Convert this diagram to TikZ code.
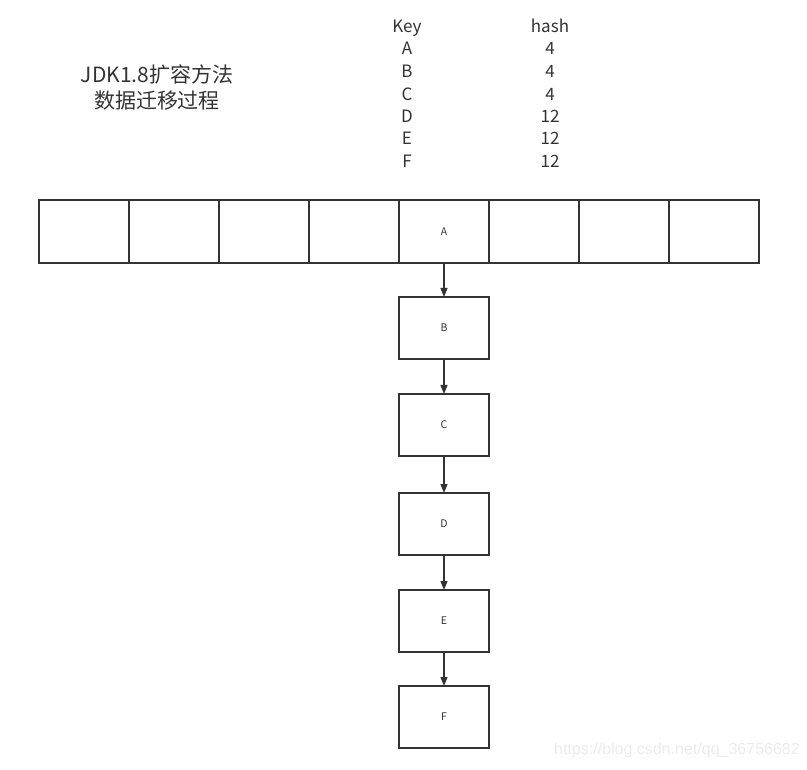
\documentclass[tikz,border=0pt]{standalone}
\usepackage{fontspec}
\setmainfont{Noto Sans CJK SC}
\newfontfamily\markfont{Liberation Sans}
\usetikzlibrary{positioning,arrows.meta}
\begin{document}
\begin{tikzpicture}[x=1pt, y=-1pt, node distance=35pt,
  every node/.style={text=black!80},
  cell/.style={draw=black!80, line width=1.5pt, minimum width=90pt, minimum height=63pt,
    inner sep=0pt, outer sep=0pt, font=\fontsize{10.5}{10.5}\selectfont},
  tab/.style={font=\fontsize{17}{17}\selectfont, inner sep=0pt, anchor=base}]
\useasboundingbox (0,0) rectangle (807,770);
% title
\node (title) [align=center, font=\fontsize{21}{26}\selectfont] at (157,87) {JDK1.8扩容方法\\数据迁移过程};
% key / hash table
\node (keyhead) [tab] at (407,33) {Key};
\node (hashhead) [tab] at (550,33) {hash};
\node (keya) [tab] at (407,55) {A};
\node (hasha) [tab] at (550,55) {4};
\node (keyb) [tab] at (407,78) {B};
\node (hashb) [tab] at (550,78) {4};
\node (keyc) [tab] at (407,101) {C};
\node (hashc) [tab] at (550,101) {4};
\node (keyd) [tab] at (407,123) {D};
\node (hashd) [tab] at (550,123) {12};
\node (keye) [tab] at (407,145) {E};
\node (hashe) [tab] at (550,145) {12};
\node (keyf) [tab] at (407,168) {F};
\node (hashf) [tab] at (550,168) {12};
% table array
\node (slot0) [cell] at (84,231.5) {};
\node (slot1) [cell, right=0pt of slot0] {};
\node (slot2) [cell, right=0pt of slot1] {};
\node (slot3) [cell, right=0pt of slot2] {};
\node (slot4) [cell, right=0pt of slot3] {A};
\node (slot5) [cell, right=0pt of slot4] {};
\node (slot6) [cell, right=0pt of slot5] {};
\node (slot7) [cell, right=0pt of slot6] {};
% linked list
\node (nodeb) [cell, minimum height=62pt] at (444,328) {B};
\node (nodec) [cell, minimum height=62pt] at (444,425) {C};
\node (noded) [cell, minimum height=62pt] at (444,524) {D};
\node (nodee) [cell, minimum height=62pt] at (444,621) {E};
\node (nodef) [cell, minimum height=62pt] at (444,717) {F};
\draw[-{Triangle[length=9pt,width=7pt]}, line width=1.3pt, black!80] (slot4) -- (nodeb);
\draw[-{Triangle[length=9pt,width=7pt]}, line width=1.3pt, black!80] (nodeb) -- (nodec);
\draw[-{Triangle[length=9pt,width=7pt]}, line width=1.3pt, black!80] (nodec) -- (noded);
\draw[-{Triangle[length=9pt,width=7pt]}, line width=1.3pt, black!80] (noded) -- (nodee);
\draw[-{Triangle[length=9pt,width=7pt]}, line width=1.3pt, black!80] (nodee) -- (nodef);
% watermark
\node (mark) [text=black!8, font=\fontsize{16}{16}\selectfont\markfont] at (677,750) {https://blog.csdn.net/qq\_36756682};
\end{tikzpicture}
\end{document}
